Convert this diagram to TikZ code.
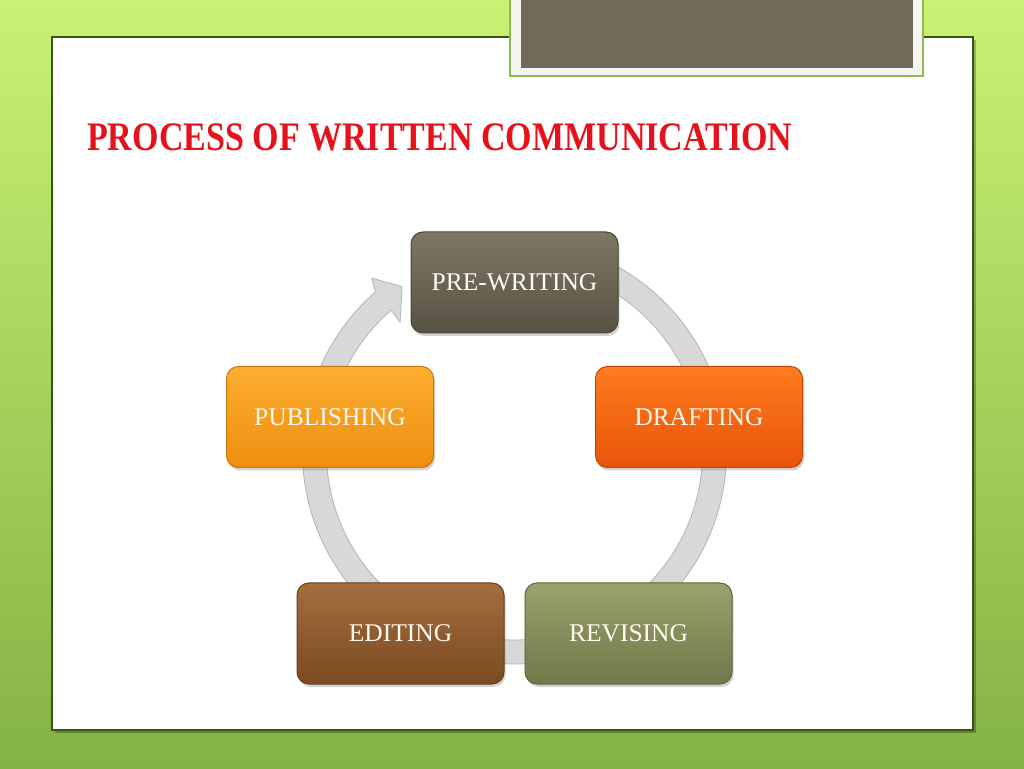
\documentclass[tikz,border=0pt]{standalone}
\usepackage{fontspec}
\setmainfont{Liberation Serif}
\newfontfamily\titlefont[FakeStretch=0.84]{Liberation Serif}
\usetikzlibrary{shadows}
\definecolor{bgTop}{HTML}{C9F274}
\definecolor{bgBot}{HTML}{84B244}
\definecolor{panelEdge}{HTML}{3A5418}
\definecolor{frameFill}{HTML}{F4F4F2}
\definecolor{frameEdge}{HTML}{8DBB4F}
\definecolor{frameDark}{HTML}{716A5A}
\definecolor{titleRed}{HTML}{E5121B}
\definecolor{ringFill}{HTML}{D8D8D8}
\definecolor{ringEdge}{HTML}{B4B4B4}
\definecolor{textCream}{HTML}{FFFBF0}
\definecolor{pwTop}{HTML}{7D7765}
\definecolor{pwBot}{HTML}{585244}
\definecolor{pwEdge}{HTML}{4A4538}
\definecolor{drTop}{HTML}{FF7C1E}
\definecolor{drBot}{HTML}{E8540A}
\definecolor{drEdge}{HTML}{C04408}
\definecolor{rvTop}{HTML}{9AA26C}
\definecolor{rvBot}{HTML}{71784A}
\definecolor{rvEdge}{HTML}{5E643C}
\definecolor{edTop}{HTML}{A46E3E}
\definecolor{edBot}{HTML}{7A4A22}
\definecolor{edEdge}{HTML}{64401E}
\definecolor{puTop}{HTML}{FCAE30}
\definecolor{puBot}{HTML}{EE8E10}
\definecolor{puEdge}{HTML}{C8780E}
\begin{document}
\begin{tikzpicture}[x=1pt,y=1pt,
  stagebox/.style={rounded corners=12pt, minimum width=207pt, minimum height=101pt,
    inner sep=0pt, text=textCream, font=\fontsize{25.5}{30}\selectfont, line width=1pt,
    drop shadow={opacity=0.35, shadow xshift=1.5pt, shadow yshift=-3pt}},
  ringstyle/.style={fill=ringFill, draw=ringEdge, line width=0.8pt, line join=round}
]
\useasboundingbox (0,0) rectangle (1024,768);
\clip (0,0) rectangle (1024,768);
% background
\shade[top color=bgTop, bottom color=bgBot] (0,0) rectangle (1024,768);
% white panel
\fill[black, opacity=0.25] (55,35) rectangle (976,728);
\draw[fill=white, draw=panelEdge, line width=1.2pt] (52,38) rectangle (973,731);
% top frame
\draw[fill=frameFill, draw=frameEdge, line width=2pt] (510,692) rectangle (923,772);
\fill[frameDark] (521,700) rectangle (913,772);
% title
\node[anchor=base west, inner sep=0pt, text=titleRed, font=\titlefont\bfseries\fontsize{40.5}{44}\selectfont] (title) at (87,617) {PROCESS OF WRITTEN COMMUNICATION};
% ring with arrowhead
\begin{scope}[shift={(514.5,316)}]
\path[ringstyle] (90:212pt) arc[start angle=90, end angle=-229, radius=212pt]
  -- (129.4:225pt) -- (124.2:200pt) -- (131.4:173pt) -- (131:188pt)
  arc[start angle=-229, end angle=90, radius=188pt] -- cycle;
\end{scope}
% stages
\node[stagebox, top color=pwTop, bottom color=pwBot, draw=pwEdge] (pre) at (514.5,485.5) {PRE-WRITING};
\node[stagebox, top color=drTop, bottom color=drBot, draw=drEdge] (draft) at (699,351) {DRAFTING};
\node[stagebox, top color=rvTop, bottom color=rvBot, draw=rvEdge] (revise) at (628.5,134.5) {REVISING};
\node[stagebox, top color=edTop, bottom color=edBot, draw=edEdge] (edit) at (400.5,134.5) {EDITING};
\node[stagebox, top color=puTop, bottom color=puBot, draw=puEdge] (publish) at (330,351) {PUBLISHING};
\end{tikzpicture}
\end{document}
